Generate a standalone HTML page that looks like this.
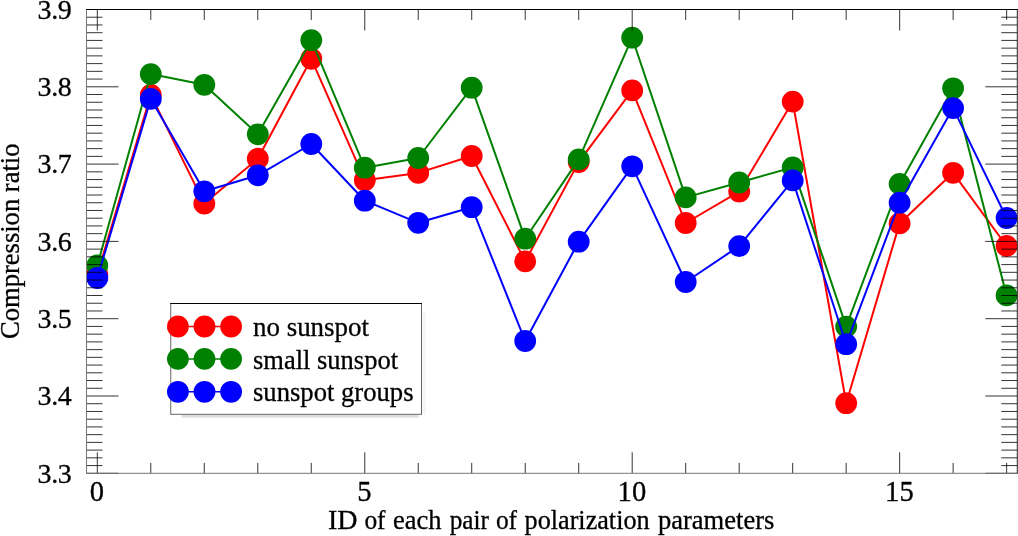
<!DOCTYPE html><html><head><meta charset="utf-8"><style>html,body{margin:0;padding:0;background:#fff;width:1018px;height:536px;overflow:hidden}svg{display:block}text{font-family:"Liberation Serif","Times New Roman",serif;fill:#000;stroke:#000;stroke-width:0.3px}</style></head><body>
<svg width="1018" height="536" viewBox="0 0 1018 536">
<rect width="1018" height="536" fill="#fff"/>
<polyline points="97.3,274.4 150.8,94.9 204.3,203.6 257.8,158.7 311.3,58.8 364.8,180.2 418.2,172.9 471.7,156.0 525.2,261.3 578.7,162.1 632.2,90.4 685.7,223.0 739.2,191.6 792.7,101.6 846.2,403.2 899.6,223.4 953.1,172.8 1006.6,246.0" fill="none" stroke="#ff0000" stroke-width="2.0" stroke-linejoin="round"/>
<circle cx="97.3" cy="274.4" r="10.9" fill="#ff0000"/>
<circle cx="150.8" cy="94.9" r="10.9" fill="#ff0000"/>
<circle cx="204.3" cy="203.6" r="10.9" fill="#ff0000"/>
<circle cx="257.8" cy="158.7" r="10.9" fill="#ff0000"/>
<circle cx="311.3" cy="58.8" r="10.9" fill="#ff0000"/>
<circle cx="364.8" cy="180.2" r="10.9" fill="#ff0000"/>
<circle cx="418.2" cy="172.9" r="10.9" fill="#ff0000"/>
<circle cx="471.7" cy="156.0" r="10.9" fill="#ff0000"/>
<circle cx="525.2" cy="261.3" r="10.9" fill="#ff0000"/>
<circle cx="578.7" cy="162.1" r="10.9" fill="#ff0000"/>
<circle cx="632.2" cy="90.4" r="10.9" fill="#ff0000"/>
<circle cx="685.7" cy="223.0" r="10.9" fill="#ff0000"/>
<circle cx="739.2" cy="191.6" r="10.9" fill="#ff0000"/>
<circle cx="792.7" cy="101.6" r="10.9" fill="#ff0000"/>
<circle cx="846.2" cy="403.2" r="10.9" fill="#ff0000"/>
<circle cx="899.6" cy="223.4" r="10.9" fill="#ff0000"/>
<circle cx="953.1" cy="172.8" r="10.9" fill="#ff0000"/>
<circle cx="1006.6" cy="246.0" r="10.9" fill="#ff0000"/>
<polyline points="97.3,265.5 150.8,74.1 204.3,84.8 257.8,134.3 311.3,40.2 364.8,167.7 418.2,158.0 471.7,87.7 525.2,238.7 578.7,159.4 632.2,37.7 685.7,197.4 739.2,182.5 792.7,167.4 846.2,326.6 899.6,183.9 953.1,88.3 1006.6,295.4" fill="none" stroke="#008000" stroke-width="2.0" stroke-linejoin="round"/>
<circle cx="97.3" cy="265.5" r="10.9" fill="#008000"/>
<circle cx="150.8" cy="74.1" r="10.9" fill="#008000"/>
<circle cx="204.3" cy="84.8" r="10.9" fill="#008000"/>
<circle cx="257.8" cy="134.3" r="10.9" fill="#008000"/>
<circle cx="311.3" cy="40.2" r="10.9" fill="#008000"/>
<circle cx="364.8" cy="167.7" r="10.9" fill="#008000"/>
<circle cx="418.2" cy="158.0" r="10.9" fill="#008000"/>
<circle cx="471.7" cy="87.7" r="10.9" fill="#008000"/>
<circle cx="525.2" cy="238.7" r="10.9" fill="#008000"/>
<circle cx="578.7" cy="159.4" r="10.9" fill="#008000"/>
<circle cx="632.2" cy="37.7" r="10.9" fill="#008000"/>
<circle cx="685.7" cy="197.4" r="10.9" fill="#008000"/>
<circle cx="739.2" cy="182.5" r="10.9" fill="#008000"/>
<circle cx="792.7" cy="167.4" r="10.9" fill="#008000"/>
<circle cx="846.2" cy="326.6" r="10.9" fill="#008000"/>
<circle cx="899.6" cy="183.9" r="10.9" fill="#008000"/>
<circle cx="953.1" cy="88.3" r="10.9" fill="#008000"/>
<circle cx="1006.6" cy="295.4" r="10.9" fill="#008000"/>
<polyline points="97.3,278.0 150.8,98.9 204.3,191.3 257.8,175.3 311.3,144.0 364.8,200.7 418.2,222.8 471.7,207.2 525.2,341.0 578.7,241.7 632.2,166.3 685.7,282.0 739.2,246.1 792.7,180.4 846.2,344.2 899.6,202.7 953.1,108.1 1006.6,218.0" fill="none" stroke="#0000ff" stroke-width="2.0" stroke-linejoin="round"/>
<circle cx="97.3" cy="278.0" r="10.9" fill="#0000ff"/>
<circle cx="150.8" cy="98.9" r="10.9" fill="#0000ff"/>
<circle cx="204.3" cy="191.3" r="10.9" fill="#0000ff"/>
<circle cx="257.8" cy="175.3" r="10.9" fill="#0000ff"/>
<circle cx="311.3" cy="144.0" r="10.9" fill="#0000ff"/>
<circle cx="364.8" cy="200.7" r="10.9" fill="#0000ff"/>
<circle cx="418.2" cy="222.8" r="10.9" fill="#0000ff"/>
<circle cx="471.7" cy="207.2" r="10.9" fill="#0000ff"/>
<circle cx="525.2" cy="341.0" r="10.9" fill="#0000ff"/>
<circle cx="578.7" cy="241.7" r="10.9" fill="#0000ff"/>
<circle cx="632.2" cy="166.3" r="10.9" fill="#0000ff"/>
<circle cx="685.7" cy="282.0" r="10.9" fill="#0000ff"/>
<circle cx="739.2" cy="246.1" r="10.9" fill="#0000ff"/>
<circle cx="792.7" cy="180.4" r="10.9" fill="#0000ff"/>
<circle cx="846.2" cy="344.2" r="10.9" fill="#0000ff"/>
<circle cx="899.6" cy="202.7" r="10.9" fill="#0000ff"/>
<circle cx="953.1" cy="108.1" r="10.9" fill="#0000ff"/>
<circle cx="1006.6" cy="218.0" r="10.9" fill="#0000ff"/>
<rect x="181.8" y="414.8" width="236.8" height="2.8" fill="#dcdcdc"/>
<rect x="422.30" y="311.50" width="3.50" height="102.80" fill="#f6f6f6"/>
<rect x="170.75" y="303.50" width="250.75" height="110.80" fill="#fff" stroke="#666" stroke-width="1"/>
<path d="M170.25 303.50H422.00" stroke="#000" stroke-width="1"/>
<line x1="177.9" y1="326.5" x2="231.1" y2="326.5" stroke="#ff0000" stroke-width="1.5"/>
<circle cx="177.9" cy="326.5" r="10.9" fill="#ff0000"/>
<circle cx="204.5" cy="326.5" r="10.9" fill="#ff0000"/>
<circle cx="231.1" cy="326.5" r="10.9" fill="#ff0000"/>
<text x="253.00" y="335.50" font-size="27.40" textLength="116.00" lengthAdjust="spacingAndGlyphs">no sunspot</text>
<line x1="177.9" y1="358.9" x2="231.1" y2="358.9" stroke="#008000" stroke-width="1.5"/>
<circle cx="177.9" cy="358.9" r="10.9" fill="#008000"/>
<circle cx="204.5" cy="358.9" r="10.9" fill="#008000"/>
<circle cx="231.1" cy="358.9" r="10.9" fill="#008000"/>
<text x="253.00" y="369.00" font-size="27.40" textLength="145.00" lengthAdjust="spacingAndGlyphs">small sunspot</text>
<line x1="177.9" y1="391.8" x2="231.1" y2="391.8" stroke="#0000ff" stroke-width="1.5"/>
<circle cx="177.9" cy="391.8" r="10.9" fill="#0000ff"/>
<circle cx="204.5" cy="391.8" r="10.9" fill="#0000ff"/>
<circle cx="231.1" cy="391.8" r="10.9" fill="#0000ff"/>
<text x="253.00" y="400.50" font-size="27.40" textLength="160.50" lengthAdjust="spacingAndGlyphs">sunspot groups</text>
<path d="M97.30 473.30v-21.00M97.30 9.50v21.00M150.79 473.30v-10.40M150.79 9.50v10.40M204.28 473.30v-10.40M204.28 9.50v10.40M257.77 473.30v-10.40M257.77 9.50v10.40M311.26 473.30v-10.40M311.26 9.50v10.40M364.75 473.30v-21.00M364.75 9.50v21.00M418.24 473.30v-10.40M418.24 9.50v10.40M471.73 473.30v-10.40M471.73 9.50v10.40M525.22 473.30v-10.40M525.22 9.50v10.40M578.71 473.30v-10.40M578.71 9.50v10.40M632.20 473.30v-21.00M632.20 9.50v21.00M685.69 473.30v-10.40M685.69 9.50v10.40M739.18 473.30v-10.40M739.18 9.50v10.40M792.67 473.30v-10.40M792.67 9.50v10.40M846.16 473.30v-10.40M846.16 9.50v10.40M899.65 473.30v-21.00M899.65 9.50v21.00M953.14 473.30v-10.40M953.14 9.50v10.40M1006.63 473.30v-10.40M1006.63 9.50v10.40M86.50 473.30h32.00M1017.30 473.30h-32.00M86.50 465.57h16.00M1017.30 465.57h-16.00M86.50 457.84h16.00M1017.30 457.84h-16.00M86.50 450.11h16.00M1017.30 450.11h-16.00M86.50 442.38h16.00M1017.30 442.38h-16.00M86.50 434.65h16.00M1017.30 434.65h-16.00M86.50 426.92h16.00M1017.30 426.92h-16.00M86.50 419.19h16.00M1017.30 419.19h-16.00M86.50 411.46h16.00M1017.30 411.46h-16.00M86.50 403.73h16.00M1017.30 403.73h-16.00M86.50 396.00h32.00M1017.30 396.00h-32.00M86.50 388.27h16.00M1017.30 388.27h-16.00M86.50 380.54h16.00M1017.30 380.54h-16.00M86.50 372.81h16.00M1017.30 372.81h-16.00M86.50 365.08h16.00M1017.30 365.08h-16.00M86.50 357.35h16.00M1017.30 357.35h-16.00M86.50 349.62h16.00M1017.30 349.62h-16.00M86.50 341.89h16.00M1017.30 341.89h-16.00M86.50 334.16h16.00M1017.30 334.16h-16.00M86.50 326.43h16.00M1017.30 326.43h-16.00M86.50 318.70h32.00M1017.30 318.70h-32.00M86.50 310.97h16.00M1017.30 310.97h-16.00M86.50 303.24h16.00M1017.30 303.24h-16.00M86.50 295.51h16.00M1017.30 295.51h-16.00M86.50 287.78h16.00M1017.30 287.78h-16.00M86.50 280.05h16.00M1017.30 280.05h-16.00M86.50 272.32h16.00M1017.30 272.32h-16.00M86.50 264.59h16.00M1017.30 264.59h-16.00M86.50 256.86h16.00M1017.30 256.86h-16.00M86.50 249.13h16.00M1017.30 249.13h-16.00M86.50 241.40h32.00M1017.30 241.40h-32.00M86.50 233.67h16.00M1017.30 233.67h-16.00M86.50 225.94h16.00M1017.30 225.94h-16.00M86.50 218.21h16.00M1017.30 218.21h-16.00M86.50 210.48h16.00M1017.30 210.48h-16.00M86.50 202.75h16.00M1017.30 202.75h-16.00M86.50 195.02h16.00M1017.30 195.02h-16.00M86.50 187.29h16.00M1017.30 187.29h-16.00M86.50 179.56h16.00M1017.30 179.56h-16.00M86.50 171.83h16.00M1017.30 171.83h-16.00M86.50 164.10h32.00M1017.30 164.10h-32.00M86.50 156.37h16.00M1017.30 156.37h-16.00M86.50 148.64h16.00M1017.30 148.64h-16.00M86.50 140.91h16.00M1017.30 140.91h-16.00M86.50 133.18h16.00M1017.30 133.18h-16.00M86.50 125.45h16.00M1017.30 125.45h-16.00M86.50 117.72h16.00M1017.30 117.72h-16.00M86.50 109.99h16.00M1017.30 109.99h-16.00M86.50 102.26h16.00M1017.30 102.26h-16.00M86.50 94.53h16.00M1017.30 94.53h-16.00M86.50 86.80h32.00M1017.30 86.80h-32.00M86.50 79.07h16.00M1017.30 79.07h-16.00M86.50 71.34h16.00M1017.30 71.34h-16.00M86.50 63.61h16.00M1017.30 63.61h-16.00M86.50 55.88h16.00M1017.30 55.88h-16.00M86.50 48.15h16.00M1017.30 48.15h-16.00M86.50 40.42h16.00M1017.30 40.42h-16.00M86.50 32.69h16.00M1017.30 32.69h-16.00M86.50 24.96h16.00M1017.30 24.96h-16.00M86.50 17.23h16.00M1017.30 17.23h-16.00M86.50 9.50h32.00M1017.30 9.50h-32.00" fill="none" stroke="#000" stroke-width="0.8"/>
<path d="M86.00 473.30H1017.80" stroke="#777" stroke-width="1"/>
<path d="M86.50 9.50V473.30" stroke="#777" stroke-width="1"/>
<path d="M1017.30 9.50V473.30" stroke="#222" stroke-width="1"/>
<path d="M86.00 9.50H1017.80" stroke="#000" stroke-width="1"/>
<text x="71.5" y="482.6" font-size="28" letter-spacing="-0.35" text-anchor="end">3.3</text>
<text x="71.5" y="405.3" font-size="28" letter-spacing="-0.35" text-anchor="end">3.4</text>
<text x="71.5" y="328.0" font-size="28" letter-spacing="-0.35" text-anchor="end">3.5</text>
<text x="71.5" y="250.7" font-size="28" letter-spacing="-0.35" text-anchor="end">3.6</text>
<text x="71.5" y="173.4" font-size="28" letter-spacing="-0.35" text-anchor="end">3.7</text>
<text x="71.5" y="96.1" font-size="28" letter-spacing="-0.35" text-anchor="end">3.8</text>
<text x="71.5" y="18.8" font-size="28" letter-spacing="-0.35" text-anchor="end">3.9</text>
<text x="97.0" y="500.8" font-size="28.60" text-anchor="middle">0</text>
<text x="364.4" y="500.8" font-size="28.60" text-anchor="middle">5</text>
<text x="631.9" y="500.8" font-size="28.60" text-anchor="middle">10</text>
<text x="899.4" y="500.8" font-size="28.60" text-anchor="middle">15</text>
<text y="528.9" font-size="27.8"><tspan x="328.00" textLength="29.60" lengthAdjust="spacingAndGlyphs">ID</tspan> <tspan x="364.40" textLength="21.20" lengthAdjust="spacingAndGlyphs">of</tspan> <tspan x="393.10" textLength="48.50" lengthAdjust="spacingAndGlyphs">each</tspan> <tspan x="449.70" textLength="39.20" lengthAdjust="spacingAndGlyphs">pair</tspan> <tspan x="495.90" textLength="21.20" lengthAdjust="spacingAndGlyphs">of</tspan> <tspan x="524.60" textLength="125.00" lengthAdjust="spacingAndGlyphs">polarization</tspan> <tspan x="657.90" textLength="116.50" lengthAdjust="spacingAndGlyphs">parameters</tspan></text>
<text transform="translate(19.00,339.00) rotate(-90)" x="0" y="0" font-size="27.40" textLength="195.50" lengthAdjust="spacingAndGlyphs">Compression ratio</text>
</svg></body></html>
